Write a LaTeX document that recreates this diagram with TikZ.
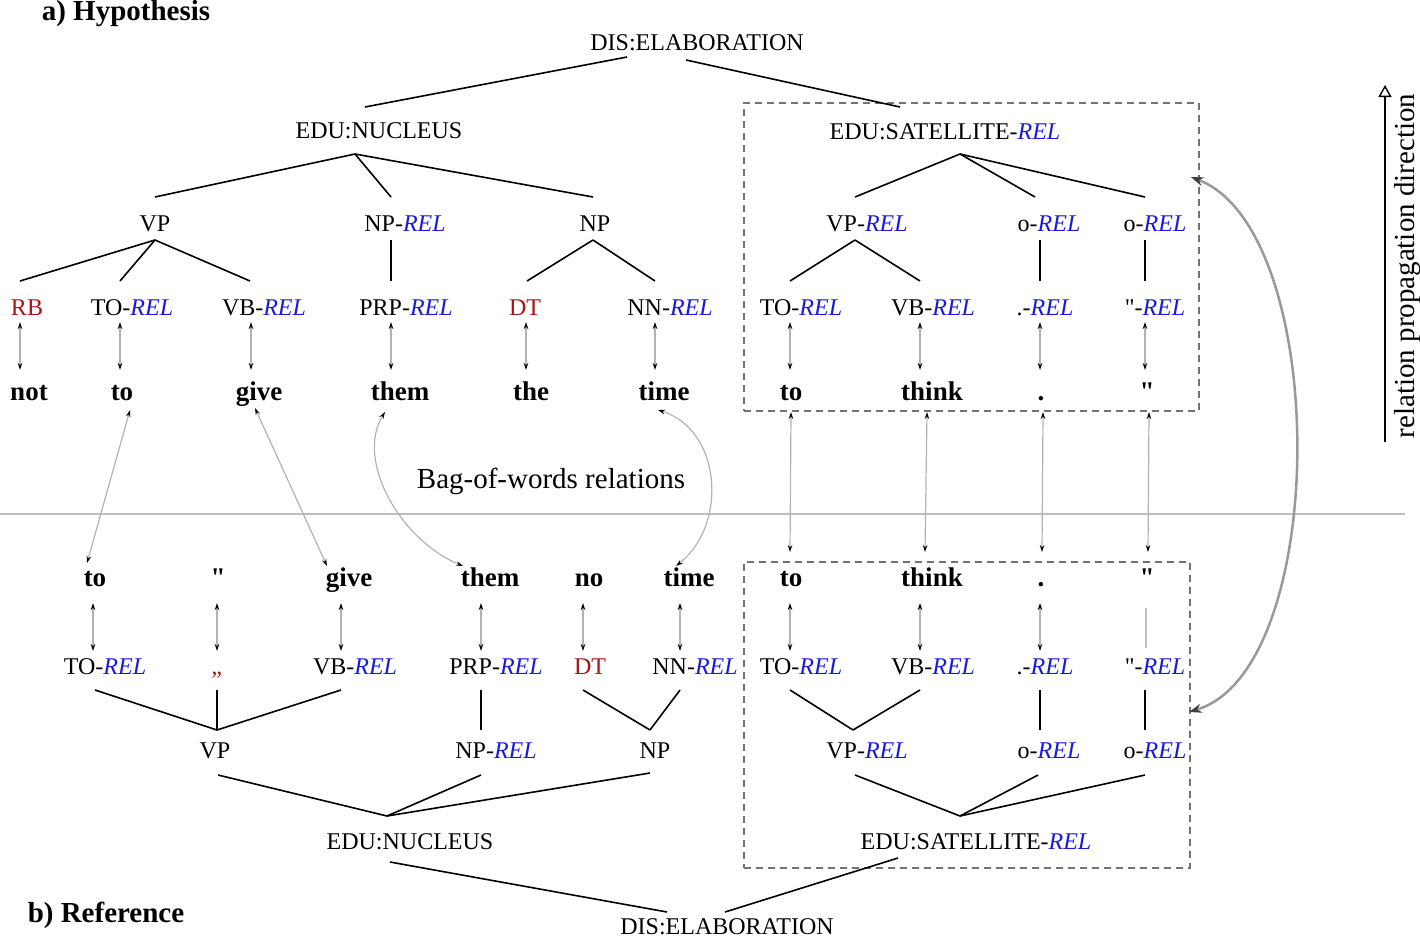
\documentclass[tikz,border=0pt]{standalone}
\usepackage{fontspec}
\setmainfont{Liberation Serif}
\newfontfamily\qfont{Liberation Serif}[Ligatures=TeXOff]
\usetikzlibrary{calc,arrows.meta}
\definecolor{relblue}{RGB}{25,25,220}
\definecolor{posred}{RGB}{170,20,20}
\newcommand\relx{\textcolor{relblue}{\textit{REL}}}
\newcommand\sq{{\qfont"}}
\begin{document}
\begin{tikzpicture}[x=1pt,y=-1pt,
 lab/.style={font=\fontsize{24}{28}\selectfont,inner sep=0pt,anchor=base},
 wrd/.style={font=\fontsize{27}{32}\selectfont\bfseries,inner sep=0pt,anchor=base},
 edge/.style={line width=1.6pt},
 link/.style={draw=black!30,line width=1.2pt,{Stealth[length=7pt,width=4.5pt,black]}-{Stealth[length=7pt,width=4.5pt,black]}},
 frame/.style={draw=black!55,line width=1.5pt,dash pattern=on 7pt off 5pt,inner sep=0pt}]
\useasboundingbox (0,0) rectangle (1420,937);

% titles
\node[wrd,font=\fontsize{29}{34}\selectfont\bfseries] (ta) at (126,20) {a) Hypothesis};
\node[wrd,font=\fontsize{29}{34}\selectfont\bfseries] (tb) at (106,922) {b) Reference};

% frames
\node[frame,minimum width=455pt,minimum height=308pt] (box1) at (971.5,257) {};
\node[frame,minimum width=446pt,minimum height=306pt] (box2) at (967,715) {};

% ---------- top tree ----------
\node[lab] (dis1) at (697,50) {DIS:ELABORATION};
\node[lab] (nuc1) at (379,138) {EDU:NUCLEUS};
\node[lab] (sat1) at (945,139) {EDU:SATELLITE-\relx};
\draw[edge] ($(dis1.base)+(-70,7)$) -- ($(nuc1.base)+(-14,-31)$);
\draw[edge] ($(dis1.base)+(-11,10)$) -- ($(sat1.base)+(-45,-32)$);

\node[lab] (vp1) at (155,231) {VP};
\node[lab] (nprel1) at (405,231) {NP-\relx};
\node[lab] (np1) at (595,231) {NP};
\draw[edge] ($(nuc1.base)+(-24,16)$) -- ($(vp1.base)+(0,-34)$);
\draw[edge] ($(nuc1.base)+(-24,16)$) -- ($(nprel1.base)+(-14,-34)$);
\draw[edge] ($(nuc1.base)+(-24,16)$) -- ($(np1.base)+(-2,-34)$);

\node[lab] (rb1) at (27,315) {\textcolor{posred}{RB}};
\node[lab] (to1p) at (132,315) {TO-\relx};
\node[lab] (vb1p) at (264,315) {VB-\relx};
\node[lab] (prp1p) at (406,315) {PRP-\relx};
\node[lab] (dt1p) at (525,315) {\textcolor{posred}{DT}};
\node[lab] (nn1p) at (670,315) {NN-\relx};
\draw[edge] ($(vp1.base)+(0,9)$) -- ($(rb1.base)+(-7,-34)$);
\draw[edge] ($(vp1.base)+(0,9)$) -- ($(to1p.base)+(-12,-34)$);
\draw[edge] ($(vp1.base)+(0,9)$) -- ($(vb1p.base)+(-14,-34)$);
\draw[edge] ($(nprel1.base)+(-14,9)$) -- ($(prp1p.base)+(-15,-34)$);
\draw[edge] ($(np1.base)+(-2,9)$) -- ($(dt1p.base)+(2,-34)$);
\draw[edge] ($(np1.base)+(-2,9)$) -- ($(nn1p.base)+(-15,-34)$);

\node[wrd] (w1not) at (29,400) {not};
\node[wrd] (w1to) at (122,400) {to};
\node[wrd] (w1give) at (259,400) {give};
\node[wrd] (w1them) at (400,400) {them};
\node[wrd] (w1the) at (531,400) {the};
\node[wrd] (w1time) at (664,400) {time};
\draw[link] ($(rb1.base)+(-7,7)$) -- ($(w1not.base)+(-9,-30)$);
\draw[link] ($(to1p.base)+(-12,7)$) -- ($(w1to.base)+(-2,-30)$);
\draw[link] ($(vb1p.base)+(-13,7)$) -- ($(w1give.base)+(-8,-30)$);
\draw[link] ($(prp1p.base)+(-15,7)$) -- ($(w1them.base)+(-9,-30)$);
\draw[link] ($(dt1p.base)+(1,7)$) -- ($(w1the.base)+(-5,-30)$);
\draw[link] ($(nn1p.base)+(-15,7)$) -- ($(w1time.base)+(-9,-30)$);

% right top
\node[lab] (vprel1) at (867,231) {VP-\relx};
\node[lab] (orel1) at (1049,231) {o-\relx};
\node[lab] (orel2) at (1155,231) {o-\relx};
\draw[edge] ($(sat1.base)+(15,15)$) -- ($(vprel1.base)+(-12,-34)$);
\draw[edge] ($(sat1.base)+(15,15)$) -- ($(orel1.base)+(-14,-34)$);
\draw[edge] ($(sat1.base)+(15,15)$) -- ($(orel2.base)+(-10,-34)$);

\node[lab] (to2p) at (801,315) {TO-\relx};
\node[lab] (vb2p) at (933,315) {VB-\relx};
\node[lab] (dot2p) at (1045,315) {.-\relx};
\node[lab] (q2p) at (1155,315) {\sq-\relx};
\draw[edge] ($(vprel1.base)+(-12,9)$) -- ($(to2p.base)+(-11,-34)$);
\draw[edge] ($(vprel1.base)+(-12,9)$) -- ($(vb2p.base)+(-13,-34)$);
\draw[edge] ($(orel1.base)+(-9,9)$) -- ($(dot2p.base)+(-5,-34)$);
\draw[edge] ($(orel2.base)+(-10,9)$) -- ($(q2p.base)+(-10,-34)$);

\node[wrd] (w2to) at (791,400) {to};
\node[wrd] (w2think) at (932,400) {think};
\node[wrd] (w2dot) at (1041,400) {.};
\node[wrd] (w2q) at (1147,400) {\sq};
\draw[link] ($(to2p.base)+(-11,7)$) -- ($(w2to.base)+(-1,-30)$);
\draw[link] ($(vb2p.base)+(-13,7)$) -- ($(w2think.base)+(-12,-30)$);
\draw[link] ($(dot2p.base)+(-5,7)$) -- ($(w2dot.base)+(-1,-30)$);
\draw[link] ($(q2p.base)+(-10,7)$) -- ($(w2q.base)+(-2,-30)$);

% separator and label
\coordinate (sepL) at (0,514);
\coordinate (sepR) at (1405,514);
\draw[black!25,line width=2pt] (sepL) -- (sepR);
\node[font=\fontsize{29}{34}\selectfont,inner sep=0pt] (bag) at (551,481) {Bag-of-words relations};

% ---------- bottom tree ----------
\node[wrd] (w3to) at (95,586) {to};
\node[wrd] (w3q) at (218,586) {\sq};
\node[wrd] (w3give) at (349,586) {give};
\node[wrd] (w3them) at (490,586) {them};
\node[wrd] (w3no) at (589,586) {no};
\node[wrd] (w3time) at (689,586) {time};
\node[wrd] (w4to) at (791,586) {to};
\node[wrd] (w4think) at (932,586) {think};
\node[wrd] (w4dot) at (1041,586) {.};
\node[wrd] (w4q) at (1147,586) {\sq};

\node[lab] (to3p) at (105,674) {TO-\relx};
\node[lab] (qq3p) at (218,674) {\textcolor{posred}{\textit{,,}}};
\node[lab] (vb3p) at (355,674) {VB-\relx};
\node[lab] (prp3p) at (496,674) {PRP-\relx};
\node[lab] (dt3p) at (590,674) {\textcolor{posred}{DT}};
\node[lab] (nn3p) at (695,674) {NN-\relx};
\node[lab] (to4p) at (801,674) {TO-\relx};
\node[lab] (vb4p) at (933,674) {VB-\relx};
\node[lab] (dot4p) at (1045,674) {.-\relx};
\node[lab] (q4p) at (1155,674) {\sq-\relx};

\draw[link] ($(w3to.base)+(-2,17)$) -- ($(to3p.base)+(-12,-23)$);
\draw[link] ($(w3q.base)+(-1,17)$) -- ($(qq3p.base)+(-1,-23)$);
\draw[link] ($(w3give.base)+(-8,17)$) -- ($(vb3p.base)+(-14,-23)$);
\draw[link] ($(w3them.base)+(-9,17)$) -- ($(prp3p.base)+(-15,-23)$);
\draw[link] ($(w3no.base)+(-6,17)$) -- ($(dt3p.base)+(-7,-23)$);
\draw[link] ($(w3time.base)+(-9,17)$) -- ($(nn3p.base)+(-15,-23)$);
\draw[link] ($(w4to.base)+(-1,17)$) -- ($(to4p.base)+(-11,-23)$);
\draw[link] ($(w4think.base)+(-12,17)$) -- ($(vb4p.base)+(-13,-23)$);
\draw[link] ($(w4dot.base)+(-1,17)$) -- ($(dot4p.base)+(-5,-23)$);
\draw[black!25,line width=1.2pt] ($(w4q.base)+(-1,22)$) -- ($(q4p.base)+(-9,-26)$);

\node[lab] (vp3) at (215,758) {VP};
\node[lab] (nprel3) at (496,758) {NP-\relx};
\node[lab] (np3) at (655,758) {NP};
\node[lab] (vprel4) at (867,758) {VP-\relx};
\node[lab] (orel3) at (1049,758) {o-\relx};
\node[lab] (orel4) at (1155,758) {o-\relx};
\draw[edge] ($(to3p.base)+(-10,16)$) -- ($(vp3.base)+(2,-28)$);
\draw[edge] ($(qq3p.base)+(-1,16)$) -- ($(vp3.base)+(2,-28)$);
\draw[edge] ($(vb3p.base)+(-14,16)$) -- ($(vp3.base)+(2,-28)$);
\draw[edge] ($(prp3p.base)+(-15,16)$) -- ($(nprel3.base)+(-15,-28)$);
\draw[edge] ($(dt3p.base)+(-7,16)$) -- ($(np3.base)+(-5,-28)$);
\draw[edge] ($(nn3p.base)+(-15,16)$) -- ($(np3.base)+(-5,-28)$);
\draw[edge] ($(to4p.base)+(-11,16)$) -- ($(vprel4.base)+(-14,-28)$);
\draw[edge] ($(vb4p.base)+(-13,16)$) -- ($(vprel4.base)+(-14,-28)$);
\draw[edge] ($(dot4p.base)+(-5,16)$) -- ($(orel3.base)+(-9,-28)$);
\draw[edge] ($(q4p.base)+(-10,16)$) -- ($(orel4.base)+(-10,-28)$);

\node[lab] (nuc3) at (410,849) {EDU:NUCLEUS};
\node[lab] (sat3) at (976,849) {EDU:SATELLITE-\relx};
\draw[edge] ($(vp3.base)+(3,17)$) -- ($(nuc3.base)+(-23,-33)$);
\draw[edge] ($(nprel3.base)+(-15,17)$) -- ($(nuc3.base)+(-23,-33)$);
\draw[edge] ($(np3.base)+(-5,15)$) -- ($(nuc3.base)+(-23,-33)$);
\draw[edge] ($(vprel4.base)+(-12,17)$) -- ($(sat3.base)+(-16,-33)$);
\draw[edge] ($(orel3.base)+(-11,17)$) -- ($(sat3.base)+(-16,-33)$);
\draw[edge] ($(orel4.base)+(-10,17)$) -- ($(sat3.base)+(-16,-33)$);

\node[lab] (dis3) at (727,934) {DIS:ELABORATION};
\draw[edge] ($(nuc3.base)+(-20,13)$) -- ($(dis3.base)+(-60,-22)$);
\draw[edge] ($(sat3.base)+(-78,9)$) -- ($(dis3.base)+(-2,-22)$);

% ---------- bag-of-words links ----------
\draw[link] ($(w1to.base)+(8,10)$) -- ($(w3to.base)+(-8,-23)$);
\draw[link] ($(w1give.base)+(-4,8)$) -- ($(w3give.base)+(-22,-20)$);
\draw[link] ($(w1them.base)+(-15,12)$) .. controls ($(w1them.base)+(-45,60)$) and ($(w3them.base)+(-90,-46)$) .. ($(w3them.base)+(-27,-20)$);
\draw[link] ($(w1time.base)+(-6,10)$) .. controls ($(w1time.base)+(58,30)$) and ($(w3time.base)+(39,-61)$) .. ($(w3time.base)+(-13,-20)$);
\draw[link] ($(w2to.base)+(0,12)$) -- ($(w4to.base)+(-1,-34)$);
\draw[link] ($(w2think.base)+(-5,12)$) -- ($(w4think.base)+(-7,-34)$);
\draw[link] ($(w2dot.base)+(2,12)$) -- ($(w4dot.base)+(1,-34)$);
\draw[link] ($(w2q.base)+(2,12)$) -- ($(w4q.base)+(1,-34)$);

% big propagation arrow between frames
\draw[black!40,line width=2.5pt,{Stealth[length=13pt,width=9pt,black!75]}-{Stealth[length=13pt,width=9pt,black!75]}]
  ($(box1.east)+(-9,-80)$) .. controls ($(box1.east)+(131,-27)$) and ($(box2.east)+(140,-45)$) .. ($(box2.east)+(-2,-3)$);

% propagation direction
\coordinate (pa) at (1385,442);
\coordinate (pb) at (1385,85);
\draw[line width=1.4pt,-{Triangle[open,length=12pt,width=13pt,line width=1.4pt]}] (pa) -- (pb);
\node[rotate=90,font=\fontsize{29}{34}\selectfont,inner sep=0pt] (pdir) at (1408,266) {relation propagation direction};
\end{tikzpicture}
\end{document}
